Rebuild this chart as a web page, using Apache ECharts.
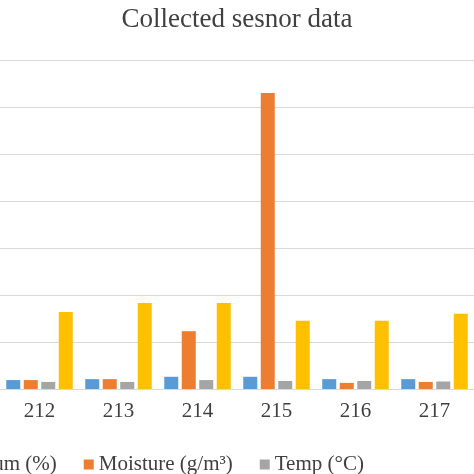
<!DOCTYPE html>
<html><head><meta charset="utf-8">
<script src="https://cdn.jsdelivr.net/npm/echarts@6/dist/echarts.min.js"></script>
<style>html,body{margin:0;padding:0;background:#fff}#c{width:474px;height:474px}</style>
</head><body><div id="c"></div>
<script>
const categories = ['212','213','214','215','216','217'];
const hum = [19, 21, 26, 26, 21, 21];
const moisture = [19, 21, 123, 630, 13, 15];
const temp = [15, 15, 19, 17, 17, 16];
const light = [164, 183, 183, 145, 145, 160];
const names = ['Hum (%)', 'Moisture (g/m³)', 'Temp (°C)', 'Light (lux)'];
const colors = ['#5B9BD5', '#ED7D31', '#A5A5A5', '#FFC000'];
const font = 'Liberation Serif';
const chart = echarts.init(document.getElementById('c'));
const data = [hum, moisture, temp, light];
chart.setOption({
  animation: false,
  color: colors,
  title: { text: 'Collected sesnor data', left: 'center', top: 1,
    textStyle: { fontFamily: font, fontSize: 27, fontWeight: 'normal', color: '#404040' } },
  legend: { left: -42, top: 449, itemWidth: 10, itemHeight: 10, itemGap: 27, icon: 'rect',
    textStyle: { fontFamily: font, fontSize: 21, color: '#404040' },
    data: names },
  grid: { left: -21, width: 573, top: 60, height: 329, containLabel: false },
  xAxis: { type: 'category', data: categories,
    axisLine: { lineStyle: { color: '#d9d9d9' } }, axisTick: { show: false },
    axisLabel: { fontFamily: font, fontSize: 21, color: '#404040', margin: 12 } },
  yAxis: { type: 'value', min: 0, max: 700, interval: 100,
    axisLabel: { show: false }, axisLine: { show: false }, axisTick: { show: false },
    splitLine: { lineStyle: { color: '#d9d9d9' } } },
  series: data.map((d, i) => ({ name: names[i], type: 'bar', data: d, barWidth: 14, barGap: '25%' }))
});
</script></body></html>
